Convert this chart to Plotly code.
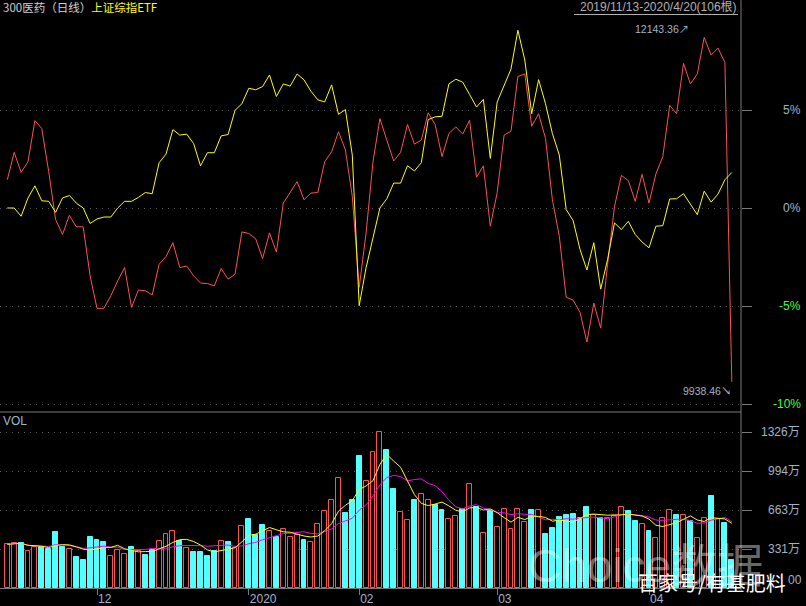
import plotly.graph_objects as go
import pandas as pd

W, H = 806, 606
FONT = "Liberation Sans, Noto Sans CJK SC, sans-serif"

# ---------------- data ----------------
day_index = list(range(106))  # trading days 2019/11/13 - 2020/4/20
tick_positions = [13, 35, 51, 71, 93]
tick_labels = ["12", "2020", "02", "03", "04"]

# 300医药 (red line), % change
red_pct = [1.44, 2.84, 1.82, 2.36, 4.46, 4.05, 1.86, -0.59, -1.35, -0.37,
           -0.96, -0.96, -3.46, -5.12, -5.12, -4.48, -3.72, -3.04, -5.07, -4.19,
           -4.22, -4.44, -2.87, -2.48, -1.77, -3.04, -2.96, -3.46, -3.83, -3.85,
           -3.97, -3.09, -3.63, -3.38, -1.22, -1.30, -1.57, -2.58, -1.27, -2.25,
           0.25, 0.79, 1.35, 0.42, 0.76, 0.79, 2.36, 2.87, 3.89, 2.96,
           0.59, -4.05, -1.27, 2.36, 4.56, 3.46, 2.40, 2.84, 4.26, 3.26,
           3.46, 4.86, 4.26, 2.62, 3.80, 4.14, 3.77, 4.48, 1.57, 2.15,
           -0.93, 0.79, 3.72, 3.92, 6.71, 6.84, 4.17, 4.81, 3.55, 0.42,
           -1.44, -4.56, -4.70, -5.32, -6.84, -4.85, -6.13, -2.87, 0.08, 1.66,
           1.40, 0.34, 1.72, 0.25, 1.74, 2.62, 5.24, 4.81, 7.38, 6.33,
           6.84, 8.70, 7.80, 8.16, 7.43, -8.87]

# 上证综指ETF (yellow line), % change
yellow_pct = [0.00, 0.00, -0.42, 0.51, 1.13, 0.37, 0.34, -0.22, 0.51, 0.64,
              0.25, 0.00, -0.79, -0.56, -0.46, -0.46, 0.00, 0.34, 0.34, 0.54,
              0.79, 0.73, 2.31, 2.75, 4.00, 3.72, 3.77, 3.29, 2.15, 2.82,
              2.82, 3.68, 3.75, 4.98, 5.32, 6.11, 6.03, 6.20, 6.79, 5.69,
              6.33, 6.22, 6.84, 6.54, 5.96, 5.52, 5.41, 6.28, 4.78, 5.02,
              2.70, -4.98, -3.04, -1.44, 0.00, 0.47, 1.27, 1.27, 2.16, 1.89,
              2.31, 4.51, 4.65, 4.68, 6.33, 6.57, 6.42, 5.79, 5.15, 5.54,
              2.53, 5.41, 6.25, 7.09, 9.07, 7.55, 4.81, 6.55, 5.32, 3.80,
              2.70, -0.08, -0.64, -2.11, -3.16, -1.77, -4.14, -2.62, -0.76, -1.10,
              -0.68, -1.35, -1.74, -2.03, -0.93, -0.90, 0.46, 0.47, 0.73, 0.17,
              -0.34, 0.86, 0.30, 0.71, 1.44, 1.81]

# volume (万)
volume = [371, 385, 385, 311, 345, 348, 328, 473, 348, 334,
          263, 235, 430, 405, 388, 269, 320, 286, 348, 314,
          280, 325, 396, 456, 481, 396, 337, 306, 306, 272,
          311, 396, 388, 342, 524, 586, 447, 532, 481, 430,
          498, 430, 447, 405, 388, 541, 651, 750, 937, 634,
          744, 1118, 906, 1157, 1326, 1169, 838, 642, 574, 747,
          795, 744, 708, 659, 583, 608, 674, 880, 688, 464,
          654, 515, 668, 498, 668, 558, 659, 659, 456, 509,
          600, 617, 625, 597, 685, 617, 597, 597, 611, 685,
          651, 566, 546, 481, 422, 597, 659, 617, 623, 569,
          422, 597, 778, 589, 549, 235]

# R = up day (hollow red), C = down day (cyan)
updown = ("RRCRRCCCCR" "CCCCCRRRCR" "CCRRRCRCCC" "CRCRRCCCRC" "RRRCRRRRRC"
          "CCRRRCCRRC" "RRCCRRCRCR" "CRRRRRCRCC" "CCCCCRCRRR" "CCRCRRRCRC" "RRCRCC")

pct_ticks = [5, 0, -5, -10]
pct_labels = ["5%", "0%", "-5%", "-10%"]
vol_ticks = [331.5, 663, 994.5, 1326]
vol_labels = ["331万", "663万", "994万", "1326万"]

# ---------------- figure ----------------
RED = "#FF5050"
CYAN = "#54FFFF"
AXC = "#A0B4C8"
GREEN = "#3CFF3C"
LINEC = "#7A7A7A"


def px(x):
    return x / W


def py(y):
    return 1 - y / H


vol_s = pd.Series(volume, dtype=float)
ma5 = vol_s.rolling(5, min_periods=1).mean()
ma10 = vol_s.rolling(10, min_periods=1).mean()

fig = go.Figure()
fig.add_trace(go.Scatter(x=day_index, y=red_pct, mode="lines",
                         line=dict(color=RED, width=1), xaxis="x", yaxis="y",
                         hoverinfo="skip"))
fig.add_trace(go.Scatter(x=day_index, y=yellow_pct, mode="lines",
                         line=dict(color="#FFFF00", width=1), xaxis="x", yaxis="y",
                         hoverinfo="skip"))

fills = ["#000000" if c == "R" else CYAN for c in updown]
edges = [RED if c == "R" else CYAN for c in updown]
fig.add_trace(go.Bar(x=day_index, y=volume, width=0.7,
                     marker=dict(color=fills, line=dict(color=edges, width=1)),
                     xaxis="x", yaxis="y2", hoverinfo="skip"))
fig.add_trace(go.Scatter(x=day_index, y=ma10, mode="lines",
                         line=dict(color="#FF00FF", width=1), xaxis="x", yaxis="y2",
                         hoverinfo="skip"))
fig.add_trace(go.Scatter(x=day_index, y=ma5, mode="lines",
                         line=dict(color="#FFFF00", width=1), xaxis="x", yaxis="y2",
                         hoverinfo="skip"))

x_lo = -7.3 / 6.9
x_hi = (741 - 7.3) / 6.9
y_top = (208 - 17) / 19.6
y_bot = (208 - 412) / 19.6
v_top = 1326 * (588 - 412) / (588 - 432)

grid = dict(showgrid=True, gridcolor="#555555", griddash="1px,5px", gridwidth=1,
            zeroline=False, showline=False, ticks="outside", ticklen=10,
            tickcolor=LINEC, showticklabels=False, side="right", fixedrange=True)

fig.update_layout(
    width=W, height=H, autosize=False,
    margin=dict(l=0, r=0, t=0, b=0, pad=0),
    paper_bgcolor="#000000", plot_bgcolor="#000000",
    showlegend=False, bargap=0,
    font=dict(family=FONT, size=12, color=AXC),
    xaxis=dict(domain=[0, px(741)], range=[x_lo, x_hi], anchor="y2",
               tickvals=tick_positions, ticktext=tick_labels,
               ticks="outside", ticklen=6, tickcolor=LINEC,
               ticklabelposition="outside right",
               tickfont=dict(family=FONT, size=12, color=AXC),
               showgrid=False, zeroline=False, showline=True,
               linecolor=LINEC, linewidth=1, fixedrange=True),
    yaxis=dict(domain=[py(412), py(17)], range=[y_bot, y_top], anchor="x",
               tickvals=pct_ticks, **grid),
    yaxis2=dict(domain=[py(588), py(412)], range=[0, v_top], anchor="x",
                tickvals=vol_ticks, **grid),
)

shapes = [
    dict(type="line", xref="paper", yref="paper", x0=px(741), x1=px(741),
         y0=py(590), y1=1, line=dict(color=LINEC, width=1)),
    dict(type="line", xref="paper", yref="paper", x0=0, x1=px(741),
         y0=py(412), y1=py(412), line=dict(color=LINEC, width=1)),
    dict(type="line", xref="paper", yref="paper", x0=px(574), x1=px(738),
         y0=py(14.5), y1=py(14.5), line=dict(color="#B0B0B0", width=1)),
]
fig.update_layout(shapes=shapes)

ann = []


def note(text, x, y, size=12, color=AXC, xanchor="left", family=FONT):
    ann.append(dict(text=text, x=px(x), y=py(y), xref="paper", yref="paper",
                    xanchor=xanchor, yanchor="middle", showarrow=False,
                    font=dict(size=size, color=color, family=family)))


note("300医药（日线）<span style='color:#FFFF00'>上证综指ETF</span>", 1, 7,
     size=11.5, color="#D0D0D0", family="Noto Sans CJK SC, Liberation Sans")
note("2019/11/13-2020/4/20(106根)", 739, 7, size=12, color="#B0B0B0",
     xanchor="right")
note("12143.36↗", 691, 29, size=10.5, color=AXC, xanchor="right")
note("9938.46↘", 733, 391, size=10.5, color=AXC, xanchor="right")
note("VOL", 1, 421, size=12, color=AXC)

for v, lab in zip(pct_ticks, pct_labels):
    ann.append(dict(text=lab, x=px(803), y=v, xref="paper", yref="y",
                    xanchor="right", yanchor="middle", showarrow=False,
                    font=dict(size=12, family=FONT,
                              color=GREEN if v < 0 else AXC)))
for v, lab in zip(vol_ticks, vol_labels):
    ann.append(dict(text=lab, x=px(802), y=v, xref="paper", yref="y2",
                    xanchor="right", yanchor="middle", showarrow=False,
                    font=dict(size=12, family=FONT, color=AXC)))
note("00", 804, 580, size=12, color=AXC, xanchor="right")

# watermarks
note("Choice数据", 526, 566, size=46, color="rgba(255,255,255,0.42)",
     family="Liberation Sans, Noto Sans CJK SC")
note("百家号/有基肥料", 636, 582, size=20, color="#FFFFFF",
     family="Noto Sans CJK SC")

fig.update_layout(annotations=ann)

fig.write_html("out.html", config={"displayModeBar": False})
